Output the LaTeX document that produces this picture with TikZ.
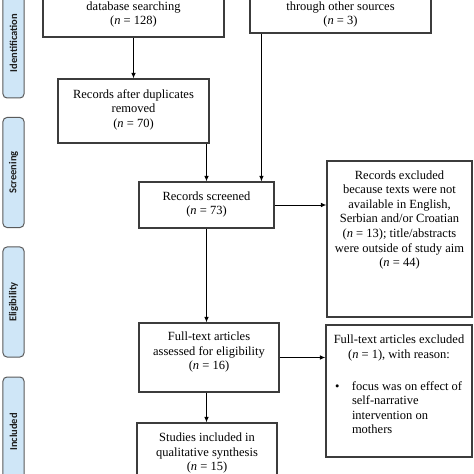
\documentclass[tikz,border=0pt]{standalone}
\usepackage{fontspec}
\setmainfont{Liberation Serif}
\newfontfamily\lblfont{Carlito}
\usetikzlibrary{arrows.meta}
\definecolor{boxgray}{HTML}{3C3C3C}
\definecolor{lblfill}{HTML}{CFE6F7}
\definecolor{lblborder}{HTML}{5A5A5A}
\definecolor{lbltext}{HTML}{1E1E1E}
\newcommand{\bx}[4]{\parbox[c][#2][t]{#1}{\centering\rule{0pt}{#3}#4}}
\begin{document}
\begin{tikzpicture}[x=1bp,y=-1bp,
  fbox/.style={draw=boxgray, line width=1.1bp, inner sep=0pt, fill=white,
    font=\fontsize{12.5bp}{14.5bp}\selectfont},
  arr/.style={draw=black, line width=0.9bp, -{Latex[length=5.5bp,width=4.5bp]}},
  phase/.style={draw=lblborder, line width=1bp, fill=lblfill, rounded corners=4bp,
    rotate=90, minimum width=110bp, minimum height=21bp, inner sep=0pt,
    text=lbltext, font=\lblfont\bfseries\fontsize{10.5bp}{12bp}\selectfont}]
\useasboundingbox (0,0) rectangle (474,474);
\clip (0,0) rectangle (474,474);

% phase labels
\node[phase] (pid) at (13.5,43) {Identification};
\node[phase] (psc) at (13.5,172.5) {Screening};
\node[phase] (pel) at (13.5,302) {Eligibility};
\node[phase] (pin) at (13.5,432) {Included};

% boxes
\node[fbox] (B1) at (133.5,3.5) {\bx{181bp}{67bp}{40.5bp}{database searching\\(\textit{n} = 128)}};
\node[fbox] (B2) at (340.5,1.5) {\bx{181bp}{63bp}{40.5bp}{through other sources\\(\textit{n} = 3)}};
\node[fbox] (B3) at (133.5,111) {\bx{151bp}{64bp}{19.5bp}{Records after duplicates\\removed\\(\textit{n} = 70)}};
\node[fbox] (B4) at (206.5,205) {\bx{135bp}{46bp}{18.5bp}{Records screened\\(\textit{n} = 73)}};
\node[fbox] (B5) at (399.5,239) {\bx{145bp}{156bp}{18.5bp}{Records excluded\\because texts were not\\available in English,\\Serbian and/or Croatian\\(\textit{n} = 13); title/abstracts\\were outside of study aim\\(\textit{n} = 44)}};
\node[fbox] (B6) at (209,357.5) {\bx{140bp}{69bp}{17.5bp}{Full-text articles\\assessed for eligibility\\(\textit{n} = 16)}};
\node[fbox] (B7) at (399,391) {\parbox[c][132bp][t]{146bp}{\centering\rule{0pt}{18.5bp}Full-text articles excluded\\(\textit{n} = 1), with reason:\par
  \vspace{17.5bp}\raggedright
  \hspace*{9bp}\makebox[17bp][l]{\textbullet}focus was on effect of\\
  \hspace*{26bp}self-narrative\\
  \hspace*{26bp}intervention on\\
  \hspace*{26bp}mothers}};
\node[fbox] (B8) at (207,456.5) {\bx{140bp}{67bp}{18.5bp}{Studies included in\\qualitative synthesis\\(\textit{n} = 15)}};

% connectors
\coordinate (b2x) at ([xshift=12bp]B2.south west);
\draw[arr] (B1.south) -- (B3.north);
\draw[arr] (B3.south -| B4.north) -- (B4.north);
\draw[arr] (b2x) -- (b2x |- B4.north);
\draw[arr] (B4.east) -- (B4.east -| B5.west);
\draw[arr] (B4.south) -- (B4.south |- B6.north);
\draw[arr] (B6.east) -- (B6.east -| B7.west);
\draw[arr] (B4.south |- B6.south) -- (B4.south |- B8.north);
\end{tikzpicture}
\end{document}
